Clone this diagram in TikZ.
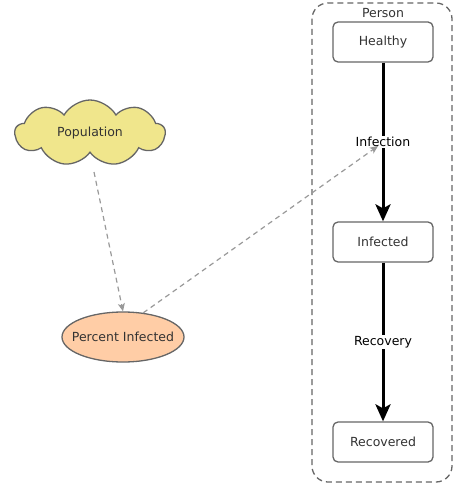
\documentclass[tikz,border=0pt]{standalone}
\usepackage{fontspec}
\setmainfont{DejaVu Sans}
\usetikzlibrary{shapes.symbols,shapes.geometric,arrows.meta}
\definecolor{strk}{HTML}{666666}
\definecolor{khaki}{HTML}{F0E68C}
\definecolor{peach}{HTML}{FFCDA6}
\definecolor{lnk}{HTML}{999999}
\definecolor{txt}{HTML}{333333}
\begin{document}
\begin{tikzpicture}[x=1pt,y=-1pt,
  font=\fontsize{12.5}{14}\selectfont,text=txt,
  stock/.style={draw=strk,line width=1.3pt,rounded corners=5pt,fill=white,minimum width=100pt,minimum height=40pt,inner sep=0pt},
  flow/.style={line width=3pt,-{Stealth[length=17pt,width=15pt,inset=4pt]}},
  flowlabel/.style={fill=white,inner sep=1pt,text=black},
  link/.style={draw=lnk,line width=1.2pt,dash pattern=on 5pt off 4pt,-{Stealth[length=8pt,width=7pt,inset=2pt]}},
]
\useasboundingbox (0,0) rectangle (454,484);
\draw[strk,line width=1.3pt,dash pattern=on 6pt off 4pt,rounded corners=16pt] (312,3) rectangle (452,482);
\node (person) at (383,13) {Person};
\node[stock] (healthy) at (383,42) {Healthy};
\node[stock] (infected) at (383,242) {Infected};
\node[stock] (recovered) at (383,442) {Recovered};
\draw[flow] (healthy.south) -- (infected.north) node[midway,flowlabel] (inf) {Infection};
\draw[flow] (infected.south) -- (recovered.north) node[midway,flowlabel] (rec) {Recovery};
\node[cloud,cloud puffs=9,cloud puff arc=120,aspect=2.3,draw=strk,line width=1.3pt,fill=khaki,minimum width=150pt,minimum height=66pt,inner sep=0pt] (pop) at (90,133) {Population};
\node[ellipse,draw=strk,line width=1.3pt,fill=peach,minimum width=122pt,minimum height=50pt,inner xsep=-9pt,inner ysep=0pt] (pct) at (123,337) {Percent Infected};
\coordinate (flowpt) at (378,146);
\draw[link] (94,172) -- (pct.north);
\draw[link] (pct.50) -- (flowpt);
\end{tikzpicture}
\end{document}
